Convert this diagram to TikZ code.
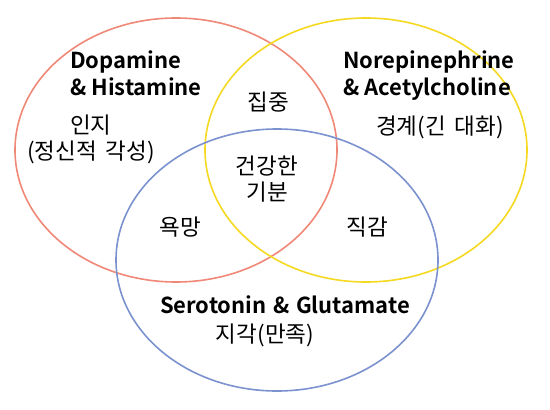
\documentclass[tikz,border=0pt]{standalone}
\usepackage{fontspec}
\setmainfont{Noto Sans CJK KR}[BoldFont={Noto Sans CJK KR Bold}]
\definecolor{cred}{HTML}{F08878}
\definecolor{cyel}{HTML}{F5D820}
\definecolor{cblu}{HTML}{7B92CF}
\begin{document}
\begin{tikzpicture}[x=1pt,y=-1pt,
  ring/.style={line width=1.6pt},
  head/.style={font=\fontsize{22}{26}\selectfont\bfseries,inner sep=0pt,anchor=base west},
  lab/.style={font=\fontsize{22.5}{26}\selectfont,inner sep=0pt}]
\useasboundingbox (0,0) rectangle (550,410);
\draw[ring,cred] (176,150) ellipse [x radius=161, y radius=132];
\draw[ring,cyel] (366,150) ellipse [x radius=161, y radius=132];
\draw[ring,cblu] (277,260) ellipse [x radius=161, y radius=131];
\node[head] (d1) at (70,68) {Dopamine};
\node[head] (d2) at (70,95) {\& Histamine};
\node[head] (n1) at (343,68) {Norepinephrine};
\node[head] (n2) at (343,95) {\& Acetylcholine};
\node[head,anchor=base] (s1) at (285,313) {Serotonin\hspace{0.3em}\&\hspace{0.3em}Glutamate};
\node[lab] (a1) at (91,125) {인지};
\node[lab] (a2) at (91,152) {(정신적\hspace{0.4em}각성)};
\node[lab] (b1) at (440,127) {경계(긴\hspace{0.4em}대화)};
\node[lab] (c1) at (265,335) {지각(만족)};
\node[lab] (ab) at (268,102) {집중};
\node[lab] (ac) at (180,227) {욕망};
\node[lab] (bc) at (367,227) {직감};
\node[lab] (m1) at (267,166) {건강한};
\node[lab] (m2) at (267,192) {기분};
\end{tikzpicture}
\end{document}
